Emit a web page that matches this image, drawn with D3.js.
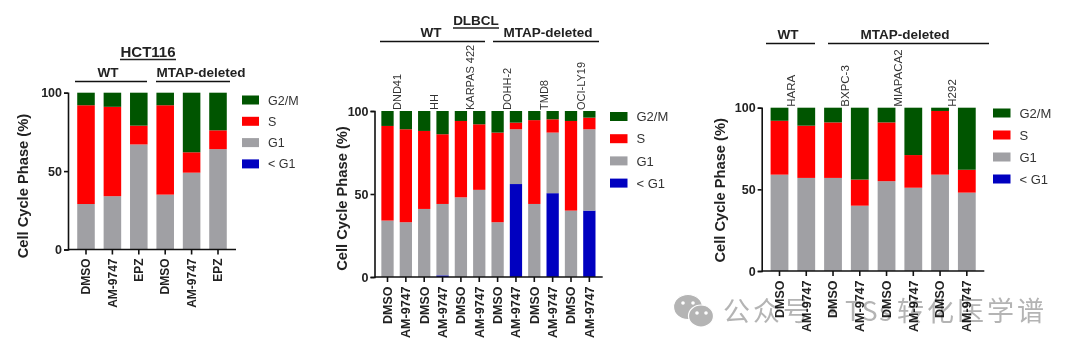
<!DOCTYPE html>
<html><head><meta charset="utf-8">
<script src="https://cdn.jsdelivr.net/npm/d3@7"></script>
<style>
html,body{margin:0;padding:0;background:#fff}
svg{display:block;font-family:"Liberation Sans",Arial,sans-serif;filter:blur(.45px)}
</style></head><body>
<svg id="c" width="1080" height="355"></svg>
<script>
const phases = ["lt", "g1", "s", "g2m"];
const legendLabels = ["G2/M", "S", "G1", "< G1"];
const legendKeys = ["g2m", "s", "g1", "lt"];
const colors = {g2m:"#005500", s:"#ff0000", g1:"#a0a0a4", lt:"#0000c0"};

// Panel 1: HCT116
const hctTreat = ["DMSO","AM-9747","EPZ","DMSO","AM-9747","EPZ"];
const hctLt  = [0,0,0,0,0,0];
const hctG1  = [29,34,67,35,49,64];
const hctS   = [63,57,12,57,13,12];
const hctG2m = [8,9,21,8,38,24];

// Panel 2: DLBCL
const dlbclTreat = ["DMSO","AM-9747","DMSO","AM-9747","DMSO","AM-9747","DMSO","AM-9747","DMSO","AM-9747","DMSO","AM-9747"];
const dlbclLines = ["DND41","HH","KARPAS 422","DOHH-2","TMD8","OCI-LY19"];
const dlbclLt  = [0,0,0,1,0,0,0,56,0,50.5,0,40];
const dlbclG1  = [34,33,41,43,48,52.5,33,33,44,36.5,40,49];
const dlbclS   = [57,56,47,42,46,39.5,54,4,50.5,8,54,7];
const dlbclG2m = [9,11,12,14,6,8,13,7,5.5,5,6,4];

// Panel 3
const solidTreat = ["DMSO","AM-9747","DMSO","AM-9747","DMSO","AM-9747","DMSO","AM-9747"];
const solidLines = ["HARA","BXPC-3","MIAPACA2","H292"];
const solidLt  = [0,0,0,0,0,0,0,0];
const solidG1  = [59,57,57,40,55,51,59,48];
const solidS   = [33,32,34,16,36,20,39,14];
const solidG2m = [8,11,9,44,9,29,2,38];

const yTicks = [0,50,100];
const svg = d3.select("#c");

function panel(o){
  const g = svg.append("g");
  const n = o.treat.length;
  const rows = o.treat.map((t,i)=>({i, lt:o.lt[i], g1:o.g1[i], s:o.s[i], g2m:o.g2m[i]}));
  const x = d3.scaleBand().domain(d3.range(n))
    .range([o.c0-o.step/2, o.c0+o.step*(n-.5)])
    .paddingInner(o.pad).paddingOuter(o.pad/2);
  const y = d3.scaleLinear().domain([0,100]).range([o.y0,o.y1]);
  const stack = d3.stack().keys(phases)(rows);
  g.selectAll("g.s").data(stack).join("g").attr("class","s").attr("fill",d=>colors[d.key])
    .selectAll("rect").data(d=>d).join("rect")
    .attr("x",d=>x(d.data.i)).attr("width",x.bandwidth())
    .attr("y",d=>y(d[1])).attr("height",d=>y(d[0])-y(d[1]));

  // axes
  const ya = g.append("g").attr("transform",`translate(${o.ax},0)`)
    .call(d3.axisLeft(y).tickValues(yTicks).tickSize(4).tickPadding(2));
  ya.select(".domain").attr("stroke","#111").attr("stroke-width",1.6);
  ya.selectAll(".tick line").attr("stroke","#111").attr("stroke-width",1.6);
  ya.selectAll("text").attr("font-size",o.fs+"px").attr("font-weight","bold").attr("fill","#222")
    .attr("font-family","'Liberation Sans',Arial,sans-serif");

  const xa = g.append("g").attr("transform",`translate(0,${o.y0})`)
    .call(d3.axisBottom(x).tickSize(5).tickFormat(i=>o.treat[i]));
  xa.select(".domain").attr("d",`M${o.ax},0H${o.axEnd}`).attr("stroke","#111").attr("stroke-width",1.6);
  xa.selectAll(".tick line").attr("stroke","#111").attr("stroke-width",1.6);
  xa.selectAll("text").attr("font-size",o.xfs+"px").attr("font-weight","bold").attr("fill","#222")
    .attr("font-family","'Liberation Sans',Arial,sans-serif")
    .attr("text-anchor","end").attr("dy",".35em").attr("dx",0).attr("y",0)
    .attr("transform",`translate(0,${o.xoff}) rotate(-90)`);

  // y title
  g.append("text").attr("transform",`translate(${o.ytx},${(o.y0+o.y1)/2+o.ytdy}) rotate(-90)`)
    .attr("text-anchor","middle").attr("font-size",o.ytfs+"px").attr("font-weight","bold").attr("fill","#222")
    .text("Cell Cycle Phase (%)");

  // legend
  legendKeys.forEach((k,i)=>{
    const ly = o.ly + i*o.ldy;
    g.append("rect").attr("x",o.lx).attr("y",ly-4.5).attr("width",o.lw).attr("height",9).attr("fill",colors[k]);
    g.append("text").attr("x",o.lx+o.lw+9).attr("y",ly).attr("dy",".36em")
      .attr("font-size",o.lfs+"px").attr("fill","#333").text(legendLabels[i]);
  });

  // group headers
  o.groups.forEach(h=>{
    g.append("line").attr("x1",h.x1).attr("x2",h.x2).attr("y1",h.y).attr("y2",h.y)
      .attr("stroke","#111").attr("stroke-width",1.6);
    g.append("text").attr("x",h.tx).attr("y",h.y-5).attr("text-anchor","middle")
      .attr("font-size",o.gfs+"px").attr("font-weight","bold").attr("fill","#222").text(h.label);
  });

  // title
  if(o.title){
    g.append("text").attr("x",o.tx).attr("y",o.ty).attr("text-anchor","middle")
      .attr("font-size",o.tfs+"px").attr("font-weight","bold").attr("fill","#222")
      .text(o.title);
    g.append("line").attr("x1",o.tx-o.tw/2).attr("x2",o.tx+o.tw/2).attr("y1",o.ty+3).attr("y2",o.ty+3)
      .attr("stroke","#222").attr("stroke-width",1.3);
  }

  // cell lines
  (o.lines||[]).forEach((l,i)=>{
    const cx = x(i*2)+x.bandwidth()+ o.lineDx;
    g.append("text").attr("transform",`translate(${cx},${o.y1-1}) rotate(-90)`)
      .attr("font-size",o.lineFs+"px").attr("fill","#333").attr("dy",".35em").text(l);
  });
}

panel({title:"HCT116",treat:hctTreat,lt:hctLt,g1:hctG1,s:hctS,g2m:hctG2m,
  c0:86,step:26.4,pad:.335,y0:249.5,y1:92.7,ax:68,axEnd:236,fs:12.5,xfs:12,xoff:9,
  ytx:28,ytdy:15,ytfs:14.7,lx:242,lw:17,ly:100,ldy:21.3,lfs:12.5,gfs:13.5,tx:148,ty:56.5,tfs:15,tw:56,
  groups:[{x1:75,x2:147,y:81.5,label:"WT",tx:108},{x1:156,x2:230,y:81.5,label:"MTAP-deleted",tx:201}]});

panel({title:"DLBCL",treat:dlbclTreat,lt:dlbclLt,g1:dlbclG1,s:dlbclS,g2m:dlbclG2m,lines:dlbclLines,
  c0:387.5,step:18.35,pad:.33,y0:277,y1:111,ax:374.5,axEnd:602.7,fs:12.5,xfs:12.5,xoff:9.5,
  ytx:347,ytdy:4.5,ytfs:14.7,lx:610,lw:17.5,ly:116.5,ldy:22.2,lfs:13,gfs:13.5,tx:476,ty:25,tfs:13.5,tw:46,
  lineDx:3.5,lineFs:11,
  groups:[{x1:380,x2:485,y:41.5,label:"WT",tx:431},{x1:493,x2:599,y:41.5,label:"MTAP-deleted",tx:548}]});

panel({treat:solidTreat,lt:solidLt,g1:solidG1,s:solidS,g2m:solidG2m,lines:solidLines,
  c0:779.5,step:26.76,pad:.335,y0:271,y1:107.7,ax:761.7,axEnd:984.3,fs:12.5,xfs:12.5,xoff:9.5,
  ytx:725,ytdy:1,ytfs:14.7,lx:993,lw:17.5,ly:113,ldy:22,lfs:13,gfs:13.5,
  lineDx:3,lineFs:11.5,
  groups:[{x1:766,x2:815,y:43.5,label:"WT",tx:788},{x1:828,x2:989,y:43.5,label:"MTAP-deleted",tx:905}]});

// watermark
const wm = svg.append("g").style("mix-blend-mode","multiply");
const bubbles = [[688,307,14.5,12.5],[701,316,12.5,11]];
wm.selectAll("ellipse.b").data(bubbles).join("ellipse").attr("class","b")
  .attr("cx",d=>d[0]).attr("cy",d=>d[1]).attr("rx",d=>d[2]).attr("ry",d=>d[3])
  .attr("fill","#b4b4b4").attr("stroke","#fff").attr("stroke-width",1.2);
const eyes = [[683,303],[693,303],[697,313],[706,313]];
wm.selectAll("circle.e").data(eyes).join("circle").attr("class","e")
  .attr("cx",d=>d[0]).attr("cy",d=>d[1]).attr("r",1.8).attr("fill","#fff");
const wmParts = [["公众号",723,3],["·",819,0],["TSs",845,1.5],["转化医学谱",897,3]];
wm.selectAll("text").data(wmParts).join("text")
  .attr("x",d=>d[1]).attr("y",321).attr("letter-spacing",d=>d[2]+"px")
  .attr("font-size","27px").attr("fill","#b4b4b4")
  .attr("font-family","'Noto Sans CJK SC'").text(d=>d[0]);
</script></body></html>
